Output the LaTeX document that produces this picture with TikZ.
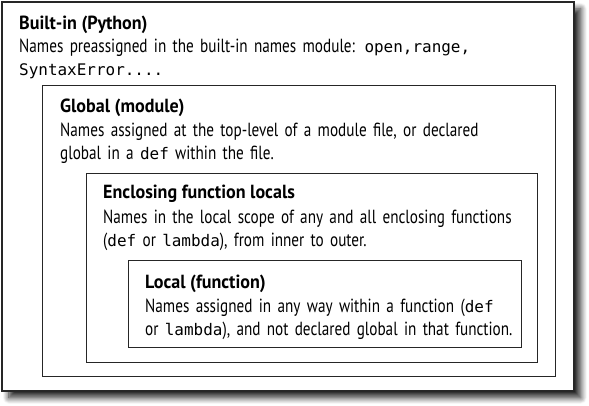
\documentclass[tikz,border=0pt]{standalone}
\usepackage{fontspec}
\setmainfont[FakeStretch=0.8]{PT Sans}
\newfontfamily\headfont[FakeStretch=0.95]{PT Sans}
\setmonofont[Scale=0.84]{DejaVu Sans Mono}
\usetikzlibrary{positioning,shadows.blur}

\begin{document}
\begin{tikzpicture}[x=1pt,y=-1pt,
   scopebox/.style={draw=black!85,line width=1.1pt,fill=white,inner sep=0pt,anchor=north west},
   scopehead/.style={anchor=base west,inner sep=0pt,font=\headfont\bfseries\fontsize{19}{22}\selectfont},
   scopetext/.style={anchor=base west,inner sep=0pt,align=left,text width=480pt,
      font=\fontsize{19}{23}\selectfont}]
\useasboundingbox (0,0) rectangle (589,406);
\node[scopebox,line width=1.6pt,minimum width=572pt,minimum height=389pt,
   blur shadow={shadow xshift=7pt,shadow yshift=-7pt,shadow blur steps=12,shadow blur radius=6pt,shadow opacity=85}]
   (builtin) at (1,1) {};
\node[scopebox,minimum width=513pt,minimum height=291pt] (global) at (42,85) {};
\node[scopebox,minimum width=451pt,minimum height=189pt] (enclosing) at (86,173) {};
\node[scopebox,minimum width=393pt,minimum height=87pt] (local) at (128,260) {};
\node[scopehead,xshift=18pt,yshift=-29pt] (builtinhead) at (builtin.north west) {Built-in (Python)};
\node[scopetext,yshift=-23pt] (builtintext) at (builtinhead.base west)
   {Names preassigned in the built-in names module: \texttt{open,range,}\\ \texttt{SyntaxError....}};
\node[scopehead,xshift=18pt,yshift=-28pt] (globalhead) at (global.north west) {Global (module)};
\node[scopetext,yshift=-24pt] (globaltext) at (globalhead.base west)
   {Names assigned at the top-level of a module file, or declared\\ global in a \texttt{def} within the file.};
\node[scopehead,xshift=17pt,yshift=-26pt] (enclosinghead) at (enclosing.north west) {Enclosing function locals};
\node[scopetext,yshift=-25pt] (enclosingtext) at (enclosinghead.base west)
   {Names in the local scope of any and all enclosing functions\\ (\texttt{def} or \texttt{lambda}), from inner to outer.};
\node[scopehead,xshift=17pt,yshift=-28pt] (localhead) at (local.north west) {Local (function)};
\node[scopetext,yshift=-24pt] (localtext) at (localhead.base west)
   {Names assigned in any way within a function (\texttt{def}\\ or \texttt{lambda}), and not declared global in that function.};
\end{tikzpicture}
\end{document}
